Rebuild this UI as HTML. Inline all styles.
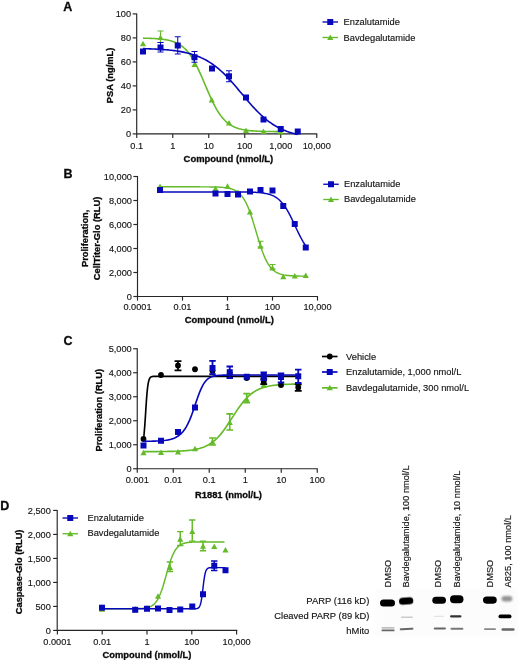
<!DOCTYPE html>
<html lang="en"><head><meta charset="utf-8"><title>Figure</title>
<style>
html,body{margin:0;padding:0;background:#fff;}
body{width:520px;height:660px;overflow:hidden;}
svg{display:block;font-family:"Liberation Sans",Arial,Helvetica,sans-serif;}
text{fill:#141414;stroke:#141414;stroke-width:0.15px;}
text[font-weight="700"]{fill:#0a0a0a;stroke:#0a0a0a;stroke-width:0.3px;}
</style></head><body>
<svg width="520" height="660" viewBox="0 0 520 660">
<defs>
<filter id="b0" x="-20%" y="-200%" width="140%" height="500%"><feGaussianBlur stdDeviation="0.7"/></filter>
<filter id="b1" x="-20%" y="-50%" width="140%" height="200%"><feGaussianBlur stdDeviation="0.7"/></filter>
<filter id="b2" x="-20%" y="-50%" width="140%" height="200%"><feGaussianBlur stdDeviation="1.3"/></filter>
</defs>
<rect width="520" height="660" fill="#fff"/>
<path d="M136.70,13.40V134.40M136.20,133.90H317.25" stroke="#262626" stroke-width="1.15" fill="none"/>
<path d="M132.60,133.90H136.70" stroke="#262626" stroke-width="1.15"/>
<text x="131.10" y="137.20" text-anchor="end" font-size="9.2">0</text>
<path d="M132.60,109.90H136.70" stroke="#262626" stroke-width="1.15"/>
<text x="131.10" y="113.20" text-anchor="end" font-size="9.2">20</text>
<path d="M132.60,85.90H136.70" stroke="#262626" stroke-width="1.15"/>
<text x="131.10" y="89.20" text-anchor="end" font-size="9.2">40</text>
<path d="M132.60,61.90H136.70" stroke="#262626" stroke-width="1.15"/>
<text x="131.10" y="65.20" text-anchor="end" font-size="9.2">60</text>
<path d="M132.60,37.90H136.70" stroke="#262626" stroke-width="1.15"/>
<text x="131.10" y="41.20" text-anchor="end" font-size="9.2">80</text>
<path d="M132.60,13.90H136.70" stroke="#262626" stroke-width="1.15"/>
<text x="131.10" y="17.20" text-anchor="end" font-size="9.2">100</text>
<path d="M136.75,133.90V138.00" stroke="#262626" stroke-width="1.15"/>
<text x="136.75" y="148.50" text-anchor="middle" font-size="9.2">0.1</text>
<path d="M172.75,133.90V138.00" stroke="#262626" stroke-width="1.15"/>
<text x="172.75" y="148.50" text-anchor="middle" font-size="9.2">1</text>
<path d="M208.75,133.90V138.00" stroke="#262626" stroke-width="1.15"/>
<text x="208.75" y="148.50" text-anchor="middle" font-size="9.2">10</text>
<path d="M244.75,133.90V138.00" stroke="#262626" stroke-width="1.15"/>
<text x="244.75" y="148.50" text-anchor="middle" font-size="9.2">100</text>
<path d="M280.75,133.90V138.00" stroke="#262626" stroke-width="1.15"/>
<text x="280.75" y="148.50" text-anchor="middle" font-size="9.2">1,000</text>
<path d="M316.75,133.90V138.00" stroke="#262626" stroke-width="1.15"/>
<text x="316.75" y="148.50" text-anchor="middle" font-size="9.2">10,000</text>
<text x="63.20" y="10.80" text-anchor="start" font-size="12.5" font-weight="700">A</text>
<text x="112.90" y="75.40" text-anchor="middle" font-size="9.3" font-weight="700" transform="rotate(-90 112.90 75.40)">PSA (ng/mL)</text>
<text x="228.40" y="161.60" text-anchor="middle" font-size="9.45" font-weight="700">Compound (nmol/L)</text>
<path d="M143.00,38.17 L144.16,38.19 L145.32,38.22 L146.47,38.25 L147.63,38.28 L148.79,38.31 L149.95,38.35 L151.10,38.39 L152.26,38.44 L153.42,38.50 L154.58,38.56 L155.73,38.63 L156.89,38.71 L158.05,38.80 L159.21,38.89 L160.36,39.00 L161.52,39.13 L162.68,39.26 L163.84,39.42 L164.99,39.59 L166.15,39.79 L167.31,40.00 L168.47,40.25 L169.62,40.52 L170.78,40.82 L171.94,41.16 L173.10,41.54 L174.25,41.96 L175.41,42.43 L176.57,42.95 L177.73,43.53 L178.88,44.17 L180.04,44.88 L181.20,45.66 L182.36,46.52 L183.51,47.47 L184.67,48.52 L185.83,49.66 L186.99,50.90 L188.14,52.26 L189.30,53.73 L190.46,55.32 L191.62,57.04 L192.78,58.87 L193.93,60.83 L195.09,62.91 L196.25,65.10 L197.41,67.41 L198.56,69.82 L199.72,72.32 L200.88,74.90 L202.04,77.54 L203.19,80.24 L204.35,82.96 L205.51,85.70 L206.67,88.43 L207.82,91.13 L208.98,93.80 L210.14,96.40 L211.30,98.93 L212.45,101.38 L213.61,103.72 L214.77,105.96 L215.93,108.08 L217.08,110.08 L218.24,111.96 L219.40,113.72 L220.56,115.36 L221.71,116.87 L222.87,118.27 L224.03,119.56 L225.19,120.74 L226.34,121.81 L227.50,122.80 L228.66,123.69 L229.82,124.51 L230.97,125.24 L232.13,125.91 L233.29,126.51 L234.45,127.05 L235.61,127.53 L236.76,127.97 L237.92,128.36 L239.08,128.72 L240.24,129.03 L241.39,129.32 L242.55,129.57 L243.71,129.79 L244.87,130.00 L246.02,130.18 L247.18,130.34 L248.34,130.48 L249.50,130.61 L250.65,130.73 L251.81,130.83 L252.97,130.92 L254.13,131.00 L255.28,131.07 L256.44,131.14 L257.60,131.20 L258.76,131.25 L259.91,131.29 L261.07,131.33 L262.23,131.37 L263.39,131.40 L264.54,131.43 L265.70,131.46 L266.86,131.48 L268.02,131.50 L269.17,131.52 L270.33,131.53 L271.49,131.55 L272.65,131.56 L273.80,131.57 L274.96,131.58 L276.12,131.59 L277.28,131.60 L278.43,131.60 L279.59,131.61 L280.75,131.62" fill="none" stroke="#64ba28" stroke-width="1.6" stroke-linejoin="round" stroke-linecap="butt"/>
<path d="M160.50,31.00V42.50M157.50,31.00h6.0M157.50,42.50h6.0" stroke="#64ba28" stroke-width="1.05" fill="none"/>
<path d="M143.00,40.67 L146.05,46.27 L139.95,46.27Z" fill="#64ba28"/>
<path d="M160.50,34.42 L163.55,40.02 L157.45,40.02Z" fill="#64ba28"/>
<path d="M177.75,41.92 L180.80,47.52 L174.70,47.52Z" fill="#64ba28"/>
<path d="M194.50,61.42 L197.55,67.02 L191.45,67.02Z" fill="#64ba28"/>
<path d="M211.75,96.92 L214.80,102.52 L208.70,102.52Z" fill="#64ba28"/>
<path d="M229.00,119.92 L232.05,125.52 L225.95,125.52Z" fill="#64ba28"/>
<path d="M246.00,127.42 L249.05,133.02 L242.95,133.02Z" fill="#64ba28"/>
<path d="M263.50,128.42 L266.55,134.02 L260.45,134.02Z" fill="#64ba28"/>
<path d="M280.75,128.92 L283.80,134.52 L277.70,134.52Z" fill="#64ba28"/>
<path d="M143.00,48.63 L144.30,48.66 L145.60,48.70 L146.90,48.74 L148.20,48.78 L149.50,48.83 L150.80,48.88 L152.10,48.93 L153.40,48.99 L154.70,49.05 L156.00,49.11 L157.30,49.18 L158.61,49.25 L159.91,49.33 L161.21,49.41 L162.51,49.50 L163.81,49.60 L165.11,49.70 L166.41,49.81 L167.71,49.92 L169.01,50.05 L170.31,50.18 L171.61,50.32 L172.91,50.48 L174.21,50.64 L175.51,50.81 L176.81,50.99 L178.11,51.19 L179.41,51.40 L180.71,51.62 L182.01,51.86 L183.31,52.11 L184.61,52.38 L185.91,52.67 L187.21,52.97 L188.51,53.30 L189.82,53.64 L191.12,54.01 L192.42,54.40 L193.72,54.81 L195.02,55.25 L196.32,55.71 L197.62,56.21 L198.92,56.73 L200.22,57.28 L201.52,57.86 L202.82,58.47 L204.12,59.12 L205.42,59.80 L206.72,60.51 L208.02,61.27 L209.32,62.06 L210.62,62.89 L211.92,63.76 L213.22,64.67 L214.52,65.62 L215.82,66.61 L217.12,67.64 L218.42,68.72 L219.72,69.83 L221.03,70.99 L222.33,72.18 L223.63,73.42 L224.93,74.69 L226.23,76.00 L227.53,77.35 L228.83,78.73 L230.13,80.14 L231.43,81.58 L232.73,83.04 L234.03,84.53 L235.33,86.04 L236.63,87.57 L237.93,89.11 L239.23,90.66 L240.53,92.22 L241.83,93.78 L243.13,95.34 L244.43,96.90 L245.73,98.44 L247.03,99.98 L248.33,101.50 L249.63,103.01 L250.93,104.49 L252.24,105.95 L253.54,107.38 L254.84,108.78 L256.14,110.15 L257.44,111.49 L258.74,112.79 L260.04,114.05 L261.34,115.28 L262.64,116.46 L263.94,117.61 L265.24,118.71 L266.54,119.77 L267.84,120.79 L269.14,121.77 L270.44,122.71 L271.74,123.61 L273.04,124.47 L274.34,125.29 L275.64,126.07 L276.94,126.81 L278.24,127.52 L279.54,128.19 L280.84,128.83 L282.14,129.43 L283.45,130.00 L284.75,130.54 L286.05,131.05 L287.35,131.54 L288.65,131.99 L289.95,132.42 L291.25,132.83 L292.55,133.21 L293.85,133.57 L295.15,133.91 L296.45,134.23 L297.75,134.53" fill="none" stroke="#0808bb" stroke-width="1.6" stroke-linejoin="round" stroke-linecap="butt"/>
<path d="M160.50,42.50V51.90M157.50,42.50h6.0M157.50,51.90h6.0" stroke="#0808bb" stroke-width="1.05" fill="none"/>
<path d="M177.75,36.80V53.90M174.75,36.80h6.0M174.75,53.90h6.0" stroke="#0808bb" stroke-width="1.05" fill="none"/>
<path d="M194.50,51.50V62.20M191.50,51.50h6.0M191.50,62.20h6.0" stroke="#0808bb" stroke-width="1.05" fill="none"/>
<path d="M229.00,70.80V81.80M226.00,70.80h6.0M226.00,81.80h6.0" stroke="#0808bb" stroke-width="1.05" fill="none"/>
<rect x="140.00" y="48.50" width="6.0" height="6.0" fill="#0808bb"/>
<rect x="157.50" y="44.50" width="6.0" height="6.0" fill="#0808bb"/>
<rect x="174.75" y="42.50" width="6.0" height="6.0" fill="#0808bb"/>
<rect x="191.50" y="54.25" width="6.0" height="6.0" fill="#0808bb"/>
<rect x="209.00" y="65.50" width="6.0" height="6.0" fill="#0808bb"/>
<rect x="226.00" y="73.30" width="6.0" height="6.0" fill="#0808bb"/>
<rect x="243.00" y="94.50" width="6.0" height="6.0" fill="#0808bb"/>
<rect x="260.50" y="116.50" width="6.0" height="6.0" fill="#0808bb"/>
<rect x="277.75" y="126.00" width="6.0" height="6.0" fill="#0808bb"/>
<rect x="294.75" y="128.50" width="6.0" height="6.0" fill="#0808bb"/>
<path d="M322.50,22.00H338.00" stroke="#0808bb" stroke-width="1.35"/>
<rect x="327.25" y="19.00" width="6.0" height="6.0" fill="#0808bb"/>
<text x="343.60" y="25.30" text-anchor="start" font-size="9.3">Enzalutamide</text>
<path d="M322.50,37.50H338.00" stroke="#64ba28" stroke-width="1.35"/>
<path d="M330.25,34.42 L333.30,40.02 L327.20,40.02Z" fill="#64ba28"/>
<text x="343.60" y="40.80" text-anchor="start" font-size="9.3">Bavdegalutamide</text>
<path d="M137.50,176.00V297.00M137.00,296.50H318.00" stroke="#262626" stroke-width="1.15" fill="none"/>
<path d="M133.40,296.50H137.50" stroke="#262626" stroke-width="1.15"/>
<text x="131.90" y="299.80" text-anchor="end" font-size="9.2">0</text>
<path d="M133.40,272.50H137.50" stroke="#262626" stroke-width="1.15"/>
<text x="131.90" y="275.80" text-anchor="end" font-size="9.2">2,000</text>
<path d="M133.40,248.50H137.50" stroke="#262626" stroke-width="1.15"/>
<text x="131.90" y="251.80" text-anchor="end" font-size="9.2">4,000</text>
<path d="M133.40,224.50H137.50" stroke="#262626" stroke-width="1.15"/>
<text x="131.90" y="227.80" text-anchor="end" font-size="9.2">6,000</text>
<path d="M133.40,200.50H137.50" stroke="#262626" stroke-width="1.15"/>
<text x="131.90" y="203.80" text-anchor="end" font-size="9.2">8,000</text>
<path d="M133.40,176.50H137.50" stroke="#262626" stroke-width="1.15"/>
<text x="131.90" y="179.80" text-anchor="end" font-size="9.2">10,000</text>
<path d="M137.50,296.50V300.60" stroke="#262626" stroke-width="1.15"/>
<text x="137.50" y="310.10" text-anchor="middle" font-size="9.2">0.0001</text>
<path d="M182.50,296.50V300.60" stroke="#262626" stroke-width="1.15"/>
<text x="182.50" y="310.10" text-anchor="middle" font-size="9.2">0.01</text>
<path d="M227.50,296.50V300.60" stroke="#262626" stroke-width="1.15"/>
<text x="227.50" y="310.10" text-anchor="middle" font-size="9.2">1</text>
<path d="M272.50,296.50V300.60" stroke="#262626" stroke-width="1.15"/>
<text x="272.50" y="310.10" text-anchor="middle" font-size="9.2">100</text>
<path d="M317.50,296.50V300.60" stroke="#262626" stroke-width="1.15"/>
<text x="317.50" y="310.10" text-anchor="middle" font-size="9.2">10,000</text>
<text x="63.60" y="178.30" text-anchor="start" font-size="12.5" font-weight="700">B</text>
<text x="88.30" y="238.30" text-anchor="middle" font-size="9.3" font-weight="700" transform="rotate(-90 88.30 238.30)">Proliferation,</text>
<text x="99.50" y="238.50" text-anchor="middle" font-size="9.3" font-weight="700" transform="rotate(-90 99.50 238.50)">CellTiter-Glo (RLU)</text>
<text x="229.30" y="323.00" text-anchor="middle" font-size="9.4" font-weight="700">Compound (nmol/L)</text>
<path d="M160.00,186.83 L161.22,186.83 L162.45,186.83 L163.67,186.83 L164.90,186.83 L166.12,186.83 L167.35,186.83 L168.57,186.83 L169.80,186.83 L171.02,186.83 L172.25,186.83 L173.47,186.83 L174.70,186.83 L175.92,186.83 L177.15,186.83 L178.37,186.83 L179.60,186.83 L180.82,186.83 L182.05,186.83 L183.27,186.83 L184.50,186.83 L185.72,186.83 L186.95,186.83 L188.17,186.83 L189.39,186.83 L190.62,186.83 L191.84,186.83 L193.07,186.83 L194.29,186.84 L195.52,186.84 L196.74,186.84 L197.97,186.84 L199.19,186.84 L200.42,186.85 L201.64,186.85 L202.87,186.86 L204.09,186.86 L205.32,186.87 L206.54,186.88 L207.77,186.89 L208.99,186.90 L210.22,186.91 L211.44,186.93 L212.67,186.95 L213.89,186.97 L215.12,187.00 L216.34,187.04 L217.57,187.08 L218.79,187.14 L220.01,187.20 L221.24,187.28 L222.46,187.37 L223.69,187.48 L224.91,187.61 L226.14,187.77 L227.36,187.95 L228.59,188.18 L229.81,188.45 L231.04,188.78 L232.26,189.17 L233.49,189.63 L234.71,190.18 L235.94,190.84 L237.16,191.62 L238.39,192.53 L239.61,193.61 L240.84,194.88 L242.06,196.35 L243.29,198.05 L244.51,200.01 L245.74,202.24 L246.96,204.76 L248.18,207.58 L249.41,210.69 L250.63,214.08 L251.86,217.73 L253.08,221.60 L254.31,225.62 L255.53,229.75 L256.76,233.90 L257.98,238.02 L259.21,242.02 L260.43,245.86 L261.66,249.47 L262.88,252.82 L264.11,255.89 L265.33,258.66 L266.56,261.14 L267.78,263.33 L269.01,265.25 L270.23,266.91 L271.46,268.35 L272.68,269.58 L273.91,270.64 L275.13,271.53 L276.36,272.29 L277.58,272.93 L278.80,273.47 L280.03,273.92 L281.25,274.30 L282.48,274.61 L283.70,274.88 L284.93,275.10 L286.15,275.28 L287.38,275.44 L288.60,275.56 L289.83,275.67 L291.05,275.76 L292.28,275.83 L293.50,275.89 L294.73,275.94 L295.95,275.99 L297.18,276.02 L298.40,276.05 L299.63,276.08 L300.85,276.10 L302.08,276.11 L303.30,276.13 L304.53,276.14 L305.75,276.15" fill="none" stroke="#64ba28" stroke-width="1.45" stroke-linejoin="round" stroke-linecap="butt"/>
<path d="M260.50,241.25V247.00M257.50,241.25h6.0M257.50,247.00h6.0" stroke="#64ba28" stroke-width="1.05" fill="none"/>
<path d="M272.50,264.50V269.00M269.50,264.50h6.0M269.50,269.00h6.0" stroke="#64ba28" stroke-width="1.05" fill="none"/>
<path d="M160.00,183.42 L163.05,189.02 L156.95,189.02Z" fill="#64ba28"/>
<path d="M215.50,185.67 L218.55,191.27 L212.45,191.27Z" fill="#64ba28"/>
<path d="M227.50,183.17 L230.55,188.77 L224.45,188.77Z" fill="#64ba28"/>
<path d="M238.00,189.42 L241.05,195.02 L234.95,195.02Z" fill="#64ba28"/>
<path d="M250.00,208.92 L253.05,214.52 L246.95,214.52Z" fill="#64ba28"/>
<path d="M260.50,243.17 L263.55,248.77 L257.45,248.77Z" fill="#64ba28"/>
<path d="M272.50,264.92 L275.55,270.52 L269.45,270.52Z" fill="#64ba28"/>
<path d="M283.25,273.67 L286.30,279.27 L280.20,279.27Z" fill="#64ba28"/>
<path d="M294.75,272.92 L297.80,278.52 L291.70,278.52Z" fill="#64ba28"/>
<path d="M305.75,272.42 L308.80,278.02 L302.70,278.02Z" fill="#64ba28"/>
<path d="M160.00,191.90 L161.22,191.90 L162.45,191.90 L163.67,191.90 L164.90,191.90 L166.12,191.90 L167.35,191.90 L168.57,191.90 L169.80,191.90 L171.02,191.90 L172.25,191.90 L173.47,191.90 L174.70,191.90 L175.92,191.90 L177.15,191.90 L178.37,191.90 L179.60,191.90 L180.82,191.90 L182.05,191.90 L183.27,191.90 L184.50,191.90 L185.72,191.90 L186.95,191.90 L188.17,191.90 L189.39,191.90 L190.62,191.90 L191.84,191.90 L193.07,191.90 L194.29,191.90 L195.52,191.90 L196.74,191.90 L197.97,191.90 L199.19,191.90 L200.42,191.90 L201.64,191.90 L202.87,191.90 L204.09,191.90 L205.32,191.90 L206.54,191.90 L207.77,191.90 L208.99,191.90 L210.22,191.90 L211.44,191.90 L212.67,191.90 L213.89,191.90 L215.12,191.90 L216.34,191.90 L217.57,191.90 L218.79,191.90 L220.01,191.90 L221.24,191.91 L222.46,191.91 L223.69,191.91 L224.91,191.91 L226.14,191.91 L227.36,191.91 L228.59,191.91 L229.81,191.92 L231.04,191.92 L232.26,191.92 L233.49,191.93 L234.71,191.93 L235.94,191.94 L237.16,191.94 L238.39,191.95 L239.61,191.96 L240.84,191.97 L242.06,191.98 L243.29,191.99 L244.51,192.01 L245.74,192.03 L246.96,192.05 L248.18,192.08 L249.41,192.10 L250.63,192.14 L251.86,192.18 L253.08,192.23 L254.31,192.28 L255.53,192.34 L256.76,192.42 L257.98,192.50 L259.21,192.60 L260.43,192.72 L261.66,192.86 L262.88,193.02 L264.11,193.20 L265.33,193.42 L266.56,193.66 L267.78,193.95 L269.01,194.29 L270.23,194.67 L271.46,195.11 L272.68,195.63 L273.91,196.21 L275.13,196.88 L276.36,197.65 L277.58,198.53 L278.80,199.52 L280.03,200.63 L281.25,201.89 L282.48,203.28 L283.70,204.84 L284.93,206.54 L286.15,208.41 L287.38,210.43 L288.60,212.59 L289.83,214.89 L291.05,217.31 L292.28,219.83 L293.50,222.42 L294.73,225.04 L295.95,227.68 L297.18,230.29 L298.40,232.85 L299.63,235.33 L300.85,237.70 L302.08,239.95 L303.30,242.06 L304.53,244.01 L305.75,245.81" fill="none" stroke="#0808bb" stroke-width="1.45" stroke-linejoin="round" stroke-linecap="butt"/>
<rect x="157.00" y="187.00" width="6.0" height="6.0" fill="#0808bb"/>
<rect x="212.50" y="190.50" width="6.0" height="6.0" fill="#0808bb"/>
<rect x="224.50" y="191.00" width="6.0" height="6.0" fill="#0808bb"/>
<rect x="235.00" y="191.50" width="6.0" height="6.0" fill="#0808bb"/>
<rect x="247.00" y="188.50" width="6.0" height="6.0" fill="#0808bb"/>
<rect x="257.50" y="187.00" width="6.0" height="6.0" fill="#0808bb"/>
<rect x="269.50" y="187.50" width="6.0" height="6.0" fill="#0808bb"/>
<rect x="280.25" y="203.00" width="6.0" height="6.0" fill="#0808bb"/>
<rect x="291.75" y="221.00" width="6.0" height="6.0" fill="#0808bb"/>
<rect x="302.75" y="244.50" width="6.0" height="6.0" fill="#0808bb"/>
<path d="M323.25,184.25H338.75" stroke="#0808bb" stroke-width="1.35"/>
<rect x="328.00" y="181.25" width="6.0" height="6.0" fill="#0808bb"/>
<text x="344.00" y="187.15" text-anchor="start" font-size="9.3">Enzalutamide</text>
<path d="M323.25,199.50H338.75" stroke="#64ba28" stroke-width="1.35"/>
<path d="M331.00,196.42 L334.05,202.02 L327.95,202.02Z" fill="#64ba28"/>
<text x="344.00" y="202.40" text-anchor="start" font-size="9.3">Bavdegalutamide</text>
<path d="M137.25,348.25V469.25M136.75,468.75H317.75" stroke="#262626" stroke-width="1.15" fill="none"/>
<path d="M133.15,468.75H137.25" stroke="#262626" stroke-width="1.15"/>
<text x="131.65" y="472.05" text-anchor="end" font-size="9.2">0</text>
<path d="M133.15,444.75H137.25" stroke="#262626" stroke-width="1.15"/>
<text x="131.65" y="448.05" text-anchor="end" font-size="9.2">1,000</text>
<path d="M133.15,420.75H137.25" stroke="#262626" stroke-width="1.15"/>
<text x="131.65" y="424.05" text-anchor="end" font-size="9.2">2,000</text>
<path d="M133.15,396.75H137.25" stroke="#262626" stroke-width="1.15"/>
<text x="131.65" y="400.05" text-anchor="end" font-size="9.2">3,000</text>
<path d="M133.15,372.75H137.25" stroke="#262626" stroke-width="1.15"/>
<text x="131.65" y="376.05" text-anchor="end" font-size="9.2">4,000</text>
<path d="M133.15,348.75H137.25" stroke="#262626" stroke-width="1.15"/>
<text x="131.65" y="352.05" text-anchor="end" font-size="9.2">5,000</text>
<path d="M137.25,468.75V472.85" stroke="#262626" stroke-width="1.15"/>
<text x="137.25" y="483.35" text-anchor="middle" font-size="9.2">0.001</text>
<path d="M173.25,468.75V472.85" stroke="#262626" stroke-width="1.15"/>
<text x="173.25" y="483.35" text-anchor="middle" font-size="9.2">0.01</text>
<path d="M209.25,468.75V472.85" stroke="#262626" stroke-width="1.15"/>
<text x="209.25" y="483.35" text-anchor="middle" font-size="9.2">0.1</text>
<path d="M245.25,468.75V472.85" stroke="#262626" stroke-width="1.15"/>
<text x="245.25" y="483.35" text-anchor="middle" font-size="9.2">1</text>
<path d="M281.25,468.75V472.85" stroke="#262626" stroke-width="1.15"/>
<text x="281.25" y="483.35" text-anchor="middle" font-size="9.2">10</text>
<path d="M317.25,468.75V472.85" stroke="#262626" stroke-width="1.15"/>
<text x="317.25" y="483.35" text-anchor="middle" font-size="9.2">100</text>
<text x="63.60" y="345.30" text-anchor="start" font-size="12.5" font-weight="700">C</text>
<text x="101.70" y="410.20" text-anchor="middle" font-size="9.3" font-weight="700" transform="rotate(-90 101.70 410.20)">Proliferation (RLU)</text>
<text x="228.50" y="498.00" text-anchor="middle" font-size="9.35" font-weight="700">R1881 (nmol/L)</text>
<path d="M143.50,451.61 L144.80,451.61 L146.10,451.61 L147.40,451.60 L148.70,451.60 L150.00,451.59 L151.30,451.59 L152.60,451.59 L153.90,451.58 L155.20,451.57 L156.50,451.57 L157.80,451.56 L159.11,451.55 L160.41,451.54 L161.71,451.53 L163.01,451.51 L164.31,451.50 L165.61,451.48 L166.91,451.46 L168.21,451.44 L169.51,451.42 L170.81,451.39 L172.11,451.36 L173.41,451.33 L174.71,451.29 L176.01,451.25 L177.31,451.20 L178.61,451.14 L179.91,451.08 L181.21,451.01 L182.51,450.93 L183.81,450.85 L185.11,450.75 L186.41,450.64 L187.71,450.51 L189.01,450.38 L190.32,450.22 L191.62,450.04 L192.92,449.85 L194.22,449.63 L195.52,449.38 L196.82,449.11 L198.12,448.80 L199.42,448.46 L200.72,448.07 L202.02,447.65 L203.32,447.18 L204.62,446.65 L205.92,446.07 L207.22,445.43 L208.52,444.72 L209.82,443.94 L211.12,443.09 L212.42,442.16 L213.72,441.14 L215.02,440.03 L216.32,438.84 L217.62,437.55 L218.92,436.17 L220.22,434.69 L221.53,433.13 L222.83,431.48 L224.13,429.75 L225.43,427.94 L226.73,426.06 L228.03,424.13 L229.33,422.16 L230.63,420.15 L231.93,418.13 L233.23,416.11 L234.53,414.09 L235.83,412.11 L237.13,410.16 L238.43,408.26 L239.73,406.43 L241.03,404.67 L242.33,402.99 L243.63,401.39 L244.93,399.88 L246.23,398.47 L247.53,397.15 L248.83,395.92 L250.13,394.78 L251.43,393.73 L252.74,392.77 L254.04,391.89 L255.34,391.08 L256.64,390.35 L257.94,389.68 L259.24,389.08 L260.54,388.54 L261.84,388.05 L263.14,387.60 L264.44,387.21 L265.74,386.85 L267.04,386.53 L268.34,386.24 L269.64,385.99 L270.94,385.76 L272.24,385.55 L273.54,385.37 L274.84,385.21 L276.14,385.06 L277.44,384.94 L278.74,384.82 L280.04,384.72 L281.34,384.63 L282.64,384.55 L283.95,384.47 L285.25,384.41 L286.55,384.35 L287.85,384.30 L289.15,384.26 L290.45,384.22 L291.75,384.18 L293.05,384.15 L294.35,384.12 L295.65,384.10 L296.95,384.07 L298.25,384.05" fill="none" stroke="#64ba28" stroke-width="1.65" stroke-linejoin="round" stroke-linecap="butt"/>
<path d="M212.50,438.00V445.00M209.10,438.00h6.8M209.10,445.00h6.8" stroke="#64ba28" stroke-width="1.6" fill="none"/>
<path d="M229.75,413.90V430.00M226.35,413.90h6.8M226.35,430.00h6.8" stroke="#64ba28" stroke-width="1.6" fill="none"/>
<path d="M246.75,393.60V402.60M243.35,393.60h6.8M243.35,402.60h6.8" stroke="#64ba28" stroke-width="1.6" fill="none"/>
<path d="M143.50,449.67 L146.55,455.27 L140.45,455.27Z" fill="#64ba28"/>
<path d="M161.00,449.42 L164.05,455.02 L157.95,455.02Z" fill="#64ba28"/>
<path d="M178.00,448.92 L181.05,454.52 L174.95,454.52Z" fill="#64ba28"/>
<path d="M195.00,445.67 L198.05,451.27 L191.95,451.27Z" fill="#64ba28"/>
<path d="M212.50,438.92 L215.55,444.52 L209.45,444.52Z" fill="#64ba28"/>
<path d="M229.75,419.42 L232.80,425.02 L226.70,425.02Z" fill="#64ba28"/>
<path d="M246.75,396.17 L249.80,401.77 L243.70,401.77Z" fill="#64ba28"/>
<path d="M263.75,381.92 L266.80,387.52 L260.70,387.52Z" fill="#64ba28"/>
<path d="M281.00,380.92 L284.05,386.52 L277.95,386.52Z" fill="#64ba28"/>
<path d="M298.25,380.92 L301.30,386.52 L295.20,386.52Z" fill="#64ba28"/>
<path d="M143.50,439.09 L143.89,435.88 L144.28,431.91 L144.66,427.14 L145.05,421.68 L145.44,415.74 L145.83,409.62 L146.21,403.67 L146.60,398.18 L146.99,393.37 L147.38,389.35 L147.77,386.11 L148.15,383.57 L148.54,381.64 L148.93,380.18 L149.32,379.11 L149.71,378.33 L150.09,377.76 L150.48,377.34 L150.87,377.05 L151.26,376.83 L151.64,376.68 L152.03,376.57 L152.42,376.49 L152.81,376.44 L153.20,376.40 L153.58,376.37 L153.97,376.35 L154.36,376.34 L154.75,376.33 L155.14,376.32 L155.52,376.31 L155.91,376.31 L156.30,376.31 L156.69,376.30 L157.07,376.30 L157.46,376.30 L157.85,376.30 L158.24,376.30 L158.63,376.30 L159.01,376.30 L159.40,376.30 L159.79,376.30 L160.18,376.30 L160.57,376.30 L160.95,376.30 L161.34,376.30 L161.73,376.30 L162.12,376.30 L162.50,376.30 L162.89,376.30 L163.28,376.30 L163.67,376.30 L164.06,376.30 L164.44,376.30 L164.83,376.30 L165.22,376.30 L165.61,376.30 L165.99,376.30 L166.38,376.30 L166.77,376.30 L167.16,376.30 L167.55,376.30 L167.93,376.30 L168.32,376.30 L168.71,376.30 L169.10,376.30 L169.49,376.30 L169.87,376.30 L170.26,376.30 L170.65,376.30 L171.04,376.30 L171.42,376.30 L171.81,376.30 L172.20,376.30 L172.59,376.30 L172.98,376.30 L173.36,376.30 L173.75,376.30 L174.14,376.30 L174.53,376.30 L174.92,376.30 L175.30,376.30 L175.69,376.30 L176.08,376.30 L176.47,376.30 L176.85,376.30 L177.24,376.30 L177.63,376.30 L178.02,376.30 L178.41,376.30 L178.79,376.30 L179.18,376.30 L179.57,376.30 L179.96,376.30 L180.35,376.30 L180.73,376.30 L181.12,376.30 L181.51,376.30 L181.90,376.30 L182.28,376.30 L182.67,376.30 L183.06,376.30 L183.45,376.30 L183.84,376.30 L184.22,376.30 L184.61,376.30 L185.00,376.30 L185.39,376.30 L185.78,376.30 L186.16,376.30 L186.55,376.30 L186.94,376.30 L187.33,376.30 L187.71,376.30 L188.10,376.30 L188.49,376.30 L188.88,376.30 L189.27,376.30 L189.65,376.30 L190.04,376.30 L190.43,376.30 L190.82,376.30 L191.20,376.30 L191.59,376.30 L191.98,376.30 L192.37,376.30 L192.76,376.30 L193.14,376.30 L193.53,376.30 L193.92,376.30 L194.31,376.30 L194.70,376.30 L195.08,376.30 L195.47,376.30 L195.86,376.30 L196.25,376.30 L196.63,376.30 L197.02,376.30 L197.41,376.30 L197.80,376.30 L198.19,376.30 L198.57,376.30 L198.96,376.30 L199.35,376.30 L199.74,376.30 L200.13,376.30 L200.51,376.30 L200.90,376.30 L201.29,376.30 L201.68,376.30 L202.06,376.30 L202.45,376.30 L202.84,376.30 L203.23,376.30 L203.62,376.30 L204.00,376.30 L204.39,376.30 L204.78,376.30 L205.17,376.30 L205.56,376.30 L205.94,376.30 L206.33,376.30 L206.72,376.30 L207.11,376.30 L207.49,376.30 L207.88,376.30 L208.27,376.30 L208.66,376.30 L209.05,376.30 L209.43,376.30 L209.82,376.30 L210.21,376.30 L210.60,376.30 L210.98,376.30 L211.37,376.30 L211.76,376.30 L212.15,376.30 L212.54,376.30 L212.92,376.30 L213.31,376.30 L213.70,376.30 L214.09,376.30 L214.48,376.30 L214.86,376.30 L215.25,376.30 L215.64,376.30 L216.03,376.30 L216.41,376.30 L216.80,376.30 L217.19,376.30 L217.58,376.30 L217.97,376.30 L218.35,376.30 L218.74,376.30 L219.13,376.30 L219.52,376.30 L219.91,376.30 L220.29,376.30 L220.68,376.30 L221.07,376.30 L221.46,376.30 L221.84,376.30 L222.23,376.30 L222.62,376.30 L223.01,376.30 L223.40,376.30 L223.78,376.30 L224.17,376.30 L224.56,376.30 L224.95,376.30 L225.34,376.30 L225.72,376.30 L226.11,376.30 L226.50,376.30 L226.89,376.30 L227.27,376.30 L227.66,376.30 L228.05,376.30 L228.44,376.30 L228.83,376.30 L229.21,376.30 L229.60,376.30 L229.99,376.30 L230.38,376.30 L230.77,376.30 L231.15,376.30 L231.54,376.30 L231.93,376.30 L232.32,376.30 L232.70,376.30 L233.09,376.30 L233.48,376.30 L233.87,376.30 L234.26,376.30 L234.64,376.30 L235.03,376.30 L235.42,376.30 L235.81,376.30 L236.19,376.30 L236.58,376.30 L236.97,376.30 L237.36,376.30 L237.75,376.30 L238.13,376.30 L238.52,376.30 L238.91,376.30 L239.30,376.30 L239.69,376.30 L240.07,376.30 L240.46,376.30 L240.85,376.30 L241.24,376.30 L241.62,376.30 L242.01,376.30 L242.40,376.30 L242.79,376.30 L243.18,376.30 L243.56,376.30 L243.95,376.30 L244.34,376.30 L244.73,376.30 L245.12,376.30 L245.50,376.30 L245.89,376.30 L246.28,376.30 L246.67,376.30 L247.05,376.30 L247.44,376.30 L247.83,376.30 L248.22,376.30 L248.61,376.30 L248.99,376.30 L249.38,376.30 L249.77,376.30 L250.16,376.30 L250.55,376.30 L250.93,376.30 L251.32,376.30 L251.71,376.30 L252.10,376.30 L252.48,376.30 L252.87,376.30 L253.26,376.30 L253.65,376.30 L254.04,376.30 L254.42,376.30 L254.81,376.30 L255.20,376.30 L255.59,376.30 L255.97,376.30 L256.36,376.30 L256.75,376.30 L257.14,376.30 L257.53,376.30 L257.91,376.30 L258.30,376.30 L258.69,376.30 L259.08,376.30 L259.47,376.30 L259.85,376.30 L260.24,376.30 L260.63,376.30 L261.02,376.30 L261.40,376.30 L261.79,376.30 L262.18,376.30 L262.57,376.30 L262.96,376.30 L263.34,376.30 L263.73,376.30 L264.12,376.30 L264.51,376.30 L264.90,376.30 L265.28,376.30 L265.67,376.30 L266.06,376.30 L266.45,376.30 L266.83,376.30 L267.22,376.30 L267.61,376.30 L268.00,376.30 L268.39,376.30 L268.77,376.30 L269.16,376.30 L269.55,376.30 L269.94,376.30 L270.33,376.30 L270.71,376.30 L271.10,376.30 L271.49,376.30 L271.88,376.30 L272.26,376.30 L272.65,376.30 L273.04,376.30 L273.43,376.30 L273.82,376.30 L274.20,376.30 L274.59,376.30 L274.98,376.30 L275.37,376.30 L275.76,376.30 L276.14,376.30 L276.53,376.30 L276.92,376.30 L277.31,376.30 L277.69,376.30 L278.08,376.30 L278.47,376.30 L278.86,376.30 L279.25,376.30 L279.63,376.30 L280.02,376.30 L280.41,376.30 L280.80,376.30 L281.18,376.30 L281.57,376.30 L281.96,376.30 L282.35,376.30 L282.74,376.30 L283.12,376.30 L283.51,376.30 L283.90,376.30 L284.29,376.30 L284.68,376.30 L285.06,376.30 L285.45,376.30 L285.84,376.30 L286.23,376.30 L286.61,376.30 L287.00,376.30 L287.39,376.30 L287.78,376.30 L288.17,376.30 L288.55,376.30 L288.94,376.30 L289.33,376.30 L289.72,376.30 L290.11,376.30 L290.49,376.30 L290.88,376.30 L291.27,376.30 L291.66,376.30 L292.04,376.30 L292.43,376.30 L292.82,376.30 L293.21,376.30 L293.60,376.30 L293.98,376.30 L294.37,376.30 L294.76,376.30 L295.15,376.30 L295.54,376.30 L295.92,376.30 L296.31,376.30 L296.70,376.30 L297.09,376.30 L297.47,376.30 L297.86,376.30 L298.25,376.30" fill="none" stroke="#000" stroke-width="1.65" stroke-linejoin="round" stroke-linecap="butt"/>
<path d="M178.00,361.20V370.40M174.55,361.20h6.9M174.55,370.40h6.9" stroke="#000" stroke-width="1.7" fill="none"/>
<path d="M263.75,379.00V384.20M260.30,379.00h6.9M260.30,384.20h6.9" stroke="#000" stroke-width="1.7" fill="none"/>
<path d="M298.25,384.40V390.90M294.80,384.40h6.9M294.80,390.90h6.9" stroke="#000" stroke-width="1.7" fill="none"/>
<circle cx="143.50" cy="439.00" r="2.9" fill="#000"/>
<circle cx="161.00" cy="375.00" r="2.9" fill="#000"/>
<circle cx="178.00" cy="365.50" r="2.9" fill="#000"/>
<circle cx="195.00" cy="369.25" r="2.9" fill="#000"/>
<circle cx="212.50" cy="371.00" r="2.9" fill="#000"/>
<circle cx="229.75" cy="373.50" r="2.9" fill="#000"/>
<circle cx="246.75" cy="378.00" r="2.9" fill="#000"/>
<circle cx="263.75" cy="382.00" r="2.9" fill="#000"/>
<circle cx="281.00" cy="385.00" r="2.9" fill="#000"/>
<circle cx="298.25" cy="387.50" r="2.9" fill="#000"/>
<path d="M143.50,441.33 L144.80,441.32 L146.10,441.31 L147.40,441.29 L148.70,441.27 L150.00,441.25 L151.30,441.22 L152.60,441.19 L153.90,441.15 L155.20,441.11 L156.50,441.05 L157.80,440.99 L159.11,440.92 L160.41,440.83 L161.71,440.73 L163.01,440.61 L164.31,440.47 L165.61,440.30 L166.91,440.10 L168.21,439.87 L169.51,439.60 L170.81,439.27 L172.11,438.89 L173.41,438.44 L174.71,437.92 L176.01,437.29 L177.31,436.56 L178.61,435.71 L179.91,434.70 L181.21,433.53 L182.51,432.16 L183.81,430.56 L185.11,428.72 L186.41,426.60 L187.71,424.19 L189.01,421.46 L190.32,418.42 L191.62,415.09 L192.92,411.50 L194.22,407.72 L195.52,403.84 L196.82,399.98 L198.12,396.24 L199.42,392.75 L200.72,389.58 L202.02,386.79 L203.32,384.40 L204.62,382.41 L205.92,380.78 L207.22,379.48 L208.52,378.44 L209.82,377.63 L211.12,377.00 L212.42,376.52 L213.72,376.15 L215.02,375.87 L216.32,375.66 L217.62,375.50 L218.92,375.37 L220.22,375.28 L221.53,375.21 L222.83,375.16 L224.13,375.12 L225.43,375.09 L226.73,375.07 L228.03,375.05 L229.33,375.04 L230.63,375.03 L231.93,375.02 L233.23,375.02 L234.53,375.01 L235.83,375.01 L237.13,375.01 L238.43,375.01 L239.73,375.00 L241.03,375.00 L242.33,375.00 L243.63,375.00 L244.93,375.00 L246.23,375.00 L247.53,375.00 L248.83,375.00 L250.13,375.00 L251.43,375.00 L252.74,375.00 L254.04,375.00 L255.34,375.00 L256.64,375.00 L257.94,375.00 L259.24,375.00 L260.54,375.00 L261.84,375.00 L263.14,375.00 L264.44,375.00 L265.74,375.00 L267.04,375.00 L268.34,375.00 L269.64,375.00 L270.94,375.00 L272.24,375.00 L273.54,375.00 L274.84,375.00 L276.14,375.00 L277.44,375.00 L278.74,375.00 L280.04,375.00 L281.34,375.00 L282.64,375.00 L283.95,375.00 L285.25,375.00 L286.55,375.00 L287.85,375.00 L289.15,375.00 L290.45,375.00 L291.75,375.00 L293.05,375.00 L294.35,375.00 L295.65,375.00 L296.95,375.00 L298.25,375.00" fill="none" stroke="#0808bb" stroke-width="1.65" stroke-linejoin="round" stroke-linecap="butt"/>
<path d="M212.50,360.80V374.20M209.25,360.80h6.5M209.25,374.20h6.5" stroke="#0808bb" stroke-width="1.8" fill="none"/>
<path d="M229.75,366.50V378.00M226.50,366.50h6.5M226.50,378.00h6.5" stroke="#0808bb" stroke-width="1.8" fill="none"/>
<path d="M263.75,372.40V380.20M260.50,372.40h6.5M260.50,380.20h6.5" stroke="#0808bb" stroke-width="1.8" fill="none"/>
<path d="M281.00,373.40V382.50M277.75,373.40h6.5M277.75,382.50h6.5" stroke="#0808bb" stroke-width="1.8" fill="none"/>
<path d="M298.25,369.60V383.00M295.00,369.60h6.5M295.00,383.00h6.5" stroke="#0808bb" stroke-width="1.8" fill="none"/>
<rect x="140.50" y="442.50" width="6.0" height="6.0" fill="#0808bb"/>
<rect x="158.00" y="437.75" width="6.0" height="6.0" fill="#0808bb"/>
<rect x="175.00" y="429.00" width="6.0" height="6.0" fill="#0808bb"/>
<rect x="192.00" y="404.50" width="6.0" height="6.0" fill="#0808bb"/>
<rect x="209.50" y="365.00" width="6.0" height="6.0" fill="#0808bb"/>
<rect x="226.75" y="369.20" width="6.0" height="6.0" fill="#0808bb"/>
<rect x="243.75" y="373.75" width="6.0" height="6.0" fill="#0808bb"/>
<rect x="260.75" y="373.00" width="6.0" height="6.0" fill="#0808bb"/>
<rect x="278.00" y="374.00" width="6.0" height="6.0" fill="#0808bb"/>
<rect x="295.25" y="373.25" width="6.0" height="6.0" fill="#0808bb"/>
<path d="M322.00,356.50H337.50" stroke="#000" stroke-width="1.7"/>
<circle cx="329.75" cy="356.50" r="2.9" fill="#000"/>
<text x="346.10" y="359.80" text-anchor="start" font-size="9.3">Vehicle</text>
<path d="M322.00,372.00H337.50" stroke="#0808bb" stroke-width="1.7"/>
<rect x="326.75" y="369.00" width="6.0" height="6.0" fill="#0808bb"/>
<text x="346.10" y="375.30" text-anchor="start" font-size="9.3">Enzalutamide, 1,000 nmol/L</text>
<path d="M322.00,387.85H337.50" stroke="#64ba28" stroke-width="1.7"/>
<path d="M329.75,384.77 L332.80,390.37 L326.70,390.37Z" fill="#64ba28"/>
<text x="346.10" y="390.80" text-anchor="start" font-size="9.3">Bavdegalutamide, 300 nmol/L</text>
<path d="M57.20,509.90V630.90M56.70,630.40H237.30" stroke="#262626" stroke-width="1.15" fill="none"/>
<path d="M53.10,630.40H57.20" stroke="#262626" stroke-width="1.15"/>
<text x="50.80" y="633.70" text-anchor="end" font-size="9.2">0</text>
<path d="M53.10,606.40H57.20" stroke="#262626" stroke-width="1.15"/>
<text x="50.80" y="609.70" text-anchor="end" font-size="9.2">500</text>
<path d="M53.10,582.40H57.20" stroke="#262626" stroke-width="1.15"/>
<text x="50.80" y="585.70" text-anchor="end" font-size="9.2">1,000</text>
<path d="M53.10,558.40H57.20" stroke="#262626" stroke-width="1.15"/>
<text x="50.80" y="561.70" text-anchor="end" font-size="9.2">1,500</text>
<path d="M53.10,534.40H57.20" stroke="#262626" stroke-width="1.15"/>
<text x="50.80" y="537.70" text-anchor="end" font-size="9.2">2,000</text>
<path d="M53.10,510.40H57.20" stroke="#262626" stroke-width="1.15"/>
<text x="50.80" y="513.70" text-anchor="end" font-size="9.2">2,500</text>
<path d="M57.40,630.40V634.50" stroke="#262626" stroke-width="1.15"/>
<text x="57.40" y="644.90" text-anchor="middle" font-size="9.2">0.0001</text>
<path d="M102.20,630.40V634.50" stroke="#262626" stroke-width="1.15"/>
<text x="102.20" y="644.90" text-anchor="middle" font-size="9.2">0.01</text>
<path d="M147.00,630.40V634.50" stroke="#262626" stroke-width="1.15"/>
<text x="147.00" y="644.90" text-anchor="middle" font-size="9.2">1</text>
<path d="M191.80,630.40V634.50" stroke="#262626" stroke-width="1.15"/>
<text x="191.80" y="644.90" text-anchor="middle" font-size="9.2">100</text>
<path d="M236.60,630.40V634.50" stroke="#262626" stroke-width="1.15"/>
<text x="236.60" y="644.90" text-anchor="middle" font-size="9.2">10,000</text>
<text x="0.30" y="509.80" text-anchor="start" font-size="12.5" font-weight="700">D</text>
<text x="21.60" y="571.90" text-anchor="middle" font-size="9.3" font-weight="700" transform="rotate(-90 21.60 571.90)">Caspase-Glo (RLU)</text>
<text x="146.95" y="657.70" text-anchor="middle" font-size="9.35" font-weight="700">Compound (nmol/L)</text>
<path d="M102.00,608.77 L103.03,608.77 L104.06,608.77 L105.09,608.77 L106.12,608.77 L107.15,608.77 L108.18,608.77 L109.21,608.77 L110.24,608.77 L111.26,608.77 L112.29,608.77 L113.32,608.77 L114.35,608.77 L115.38,608.77 L116.41,608.77 L117.44,608.77 L118.47,608.77 L119.50,608.77 L120.53,608.77 L121.56,608.77 L122.59,608.77 L123.62,608.77 L124.65,608.77 L125.68,608.76 L126.71,608.76 L127.74,608.76 L128.76,608.75 L129.79,608.75 L130.82,608.74 L131.85,608.73 L132.88,608.72 L133.91,608.71 L134.94,608.69 L135.97,608.67 L137.00,608.65 L138.03,608.62 L139.06,608.58 L140.09,608.53 L141.12,608.47 L142.15,608.39 L143.18,608.30 L144.21,608.19 L145.24,608.04 L146.26,607.86 L147.29,607.64 L148.32,607.36 L149.35,607.02 L150.38,606.60 L151.41,606.09 L152.44,605.46 L153.47,604.69 L154.50,603.75 L155.53,602.62 L156.56,601.26 L157.59,599.66 L158.62,597.77 L159.65,595.58 L160.68,593.08 L161.71,590.27 L162.74,587.17 L163.76,583.81 L164.79,580.26 L165.82,576.60 L166.85,572.90 L167.88,569.27 L168.91,565.77 L169.94,562.49 L170.97,559.48 L172.00,556.77 L173.03,554.36 L174.06,552.27 L175.09,550.48 L176.12,548.95 L177.15,547.67 L178.18,546.61 L179.21,545.73 L180.24,545.00 L181.26,544.41 L182.29,543.93 L183.32,543.53 L184.35,543.22 L185.38,542.96 L186.41,542.75 L187.44,542.58 L188.47,542.45 L189.50,542.34 L190.53,542.25 L191.56,542.18 L192.59,542.13 L193.62,542.08 L194.65,542.05 L195.68,542.02 L196.71,541.99 L197.74,541.98 L198.76,541.96 L199.79,541.95 L200.82,541.94 L201.85,541.93 L202.88,541.92 L203.91,541.92 L204.94,541.92 L205.97,541.91 L207.00,541.91 L208.03,541.91 L209.06,541.91 L210.09,541.91 L211.12,541.90 L212.15,541.90 L213.18,541.90 L214.21,541.90 L215.24,541.90 L216.26,541.90 L217.29,541.90 L218.32,541.90 L219.35,541.90 L220.38,541.90 L221.41,541.90 L222.44,541.90 L223.47,541.90 L224.50,541.90" fill="none" stroke="#64ba28" stroke-width="1.45" stroke-linejoin="round" stroke-linecap="butt"/>
<path d="M170.00,561.90V571.40M166.80,561.90h6.4M166.80,571.40h6.4" stroke="#64ba28" stroke-width="1.45" fill="none"/>
<path d="M180.25,531.60V545.50M177.05,531.60h6.4M177.05,545.50h6.4" stroke="#64ba28" stroke-width="1.45" fill="none"/>
<path d="M192.25,520.00V541.10M189.05,520.00h6.4M189.05,541.10h6.4" stroke="#64ba28" stroke-width="1.45" fill="none"/>
<path d="M203.00,541.10V550.70M199.80,541.10h6.4M199.80,550.70h6.4" stroke="#64ba28" stroke-width="1.45" fill="none"/>
<path d="M102.00,606.22 L105.05,611.82 L98.95,611.82Z" fill="#64ba28"/>
<path d="M135.50,605.92 L138.55,611.52 L132.45,611.52Z" fill="#64ba28"/>
<path d="M147.00,605.22 L150.05,610.82 L143.95,610.82Z" fill="#64ba28"/>
<path d="M158.00,593.17 L161.05,598.77 L154.95,598.77Z" fill="#64ba28"/>
<path d="M170.00,564.52 L173.05,570.12 L166.95,570.12Z" fill="#64ba28"/>
<path d="M180.25,536.12 L183.30,541.72 L177.20,541.72Z" fill="#64ba28"/>
<path d="M192.25,528.42 L195.30,534.02 L189.20,534.02Z" fill="#64ba28"/>
<path d="M203.00,543.22 L206.05,548.82 L199.95,548.82Z" fill="#64ba28"/>
<path d="M214.25,543.52 L217.30,549.12 L211.20,549.12Z" fill="#64ba28"/>
<path d="M225.50,546.92 L228.55,552.52 L222.45,552.52Z" fill="#64ba28"/>
<path d="M102.00,608.84 L102.41,608.84 L102.83,608.84 L103.24,608.84 L103.65,608.84 L104.07,608.84 L104.48,608.84 L104.89,608.84 L105.30,608.84 L105.72,608.84 L106.13,608.84 L106.54,608.84 L106.96,608.84 L107.37,608.84 L107.78,608.84 L108.20,608.84 L108.61,608.84 L109.02,608.84 L109.43,608.84 L109.85,608.84 L110.26,608.84 L110.67,608.84 L111.09,608.84 L111.50,608.84 L111.91,608.84 L112.33,608.84 L112.74,608.84 L113.15,608.84 L113.57,608.84 L113.98,608.84 L114.39,608.84 L114.80,608.84 L115.22,608.84 L115.63,608.84 L116.04,608.84 L116.46,608.84 L116.87,608.84 L117.28,608.84 L117.70,608.84 L118.11,608.84 L118.52,608.84 L118.93,608.84 L119.35,608.84 L119.76,608.84 L120.17,608.84 L120.59,608.84 L121.00,608.84 L121.41,608.84 L121.83,608.84 L122.24,608.84 L122.65,608.84 L123.07,608.84 L123.48,608.84 L123.89,608.84 L124.30,608.84 L124.72,608.84 L125.13,608.84 L125.54,608.84 L125.96,608.84 L126.37,608.84 L126.78,608.84 L127.20,608.84 L127.61,608.84 L128.02,608.84 L128.43,608.84 L128.85,608.84 L129.26,608.84 L129.67,608.84 L130.09,608.84 L130.50,608.84 L130.91,608.84 L131.33,608.84 L131.74,608.84 L132.15,608.84 L132.57,608.84 L132.98,608.84 L133.39,608.84 L133.80,608.84 L134.22,608.84 L134.63,608.84 L135.04,608.84 L135.46,608.84 L135.87,608.84 L136.28,608.84 L136.70,608.84 L137.11,608.84 L137.52,608.84 L137.93,608.84 L138.35,608.84 L138.76,608.84 L139.17,608.84 L139.59,608.84 L140.00,608.84 L140.41,608.84 L140.83,608.84 L141.24,608.84 L141.65,608.84 L142.07,608.84 L142.48,608.84 L142.89,608.84 L143.30,608.84 L143.72,608.84 L144.13,608.84 L144.54,608.84 L144.96,608.84 L145.37,608.84 L145.78,608.84 L146.20,608.84 L146.61,608.84 L147.02,608.84 L147.43,608.84 L147.85,608.84 L148.26,608.84 L148.67,608.84 L149.09,608.84 L149.50,608.84 L149.91,608.84 L150.33,608.84 L150.74,608.84 L151.15,608.84 L151.57,608.84 L151.98,608.84 L152.39,608.84 L152.80,608.84 L153.22,608.84 L153.63,608.84 L154.04,608.84 L154.46,608.84 L154.87,608.84 L155.28,608.84 L155.70,608.84 L156.11,608.84 L156.52,608.84 L156.93,608.84 L157.35,608.84 L157.76,608.84 L158.17,608.84 L158.59,608.84 L159.00,608.84 L159.41,608.84 L159.83,608.84 L160.24,608.84 L160.65,608.84 L161.07,608.84 L161.48,608.84 L161.89,608.84 L162.30,608.84 L162.72,608.84 L163.13,608.84 L163.54,608.84 L163.96,608.84 L164.37,608.84 L164.78,608.84 L165.20,608.84 L165.61,608.84 L166.02,608.84 L166.43,608.84 L166.85,608.84 L167.26,608.84 L167.67,608.84 L168.09,608.84 L168.50,608.84 L168.91,608.84 L169.33,608.84 L169.74,608.84 L170.15,608.84 L170.57,608.84 L170.98,608.84 L171.39,608.84 L171.80,608.84 L172.22,608.84 L172.63,608.84 L173.04,608.84 L173.46,608.84 L173.87,608.84 L174.28,608.84 L174.70,608.84 L175.11,608.84 L175.52,608.84 L175.93,608.84 L176.35,608.84 L176.76,608.84 L177.17,608.84 L177.59,608.84 L178.00,608.84 L178.41,608.84 L178.83,608.84 L179.24,608.84 L179.65,608.84 L180.07,608.84 L180.48,608.84 L180.89,608.84 L181.30,608.84 L181.72,608.84 L182.13,608.84 L182.54,608.84 L182.96,608.84 L183.37,608.84 L183.78,608.84 L184.20,608.84 L184.61,608.84 L185.02,608.84 L185.43,608.84 L185.85,608.84 L186.26,608.84 L186.67,608.84 L187.09,608.84 L187.50,608.84 L187.91,608.84 L188.33,608.84 L188.74,608.84 L189.15,608.84 L189.57,608.84 L189.98,608.84 L190.39,608.84 L190.80,608.84 L191.22,608.83 L191.63,608.83 L192.04,608.83 L192.46,608.83 L192.87,608.83 L193.28,608.82 L193.70,608.82 L194.11,608.81 L194.52,608.80 L194.93,608.78 L195.35,608.76 L195.76,608.73 L196.17,608.68 L196.59,608.62 L197.00,608.54 L197.41,608.41 L197.83,608.25 L198.24,608.01 L198.65,607.69 L199.07,607.24 L199.48,606.63 L199.89,605.80 L200.30,604.69 L200.72,603.24 L201.13,601.39 L201.54,599.09 L201.96,596.34 L202.37,593.20 L202.78,589.79 L203.20,586.29 L203.61,582.91 L204.02,579.80 L204.43,577.09 L204.85,574.84 L205.26,573.03 L205.67,571.61 L206.09,570.54 L206.50,569.74 L206.91,569.14 L207.33,568.71 L207.74,568.40 L208.15,568.17 L208.57,568.01 L208.98,567.89 L209.39,567.81 L209.80,567.75 L210.22,567.71 L210.63,567.68 L211.04,567.65 L211.46,567.64 L211.87,567.63 L212.28,567.62 L212.70,567.61 L213.11,567.61 L213.52,567.61 L213.93,567.60 L214.35,567.60 L214.76,567.60 L215.17,567.60 L215.59,567.60 L216.00,567.60 L216.41,567.60 L216.83,567.60 L217.24,567.60 L217.65,567.60 L218.07,567.60 L218.48,567.60 L218.89,567.60 L219.30,567.60 L219.72,567.60 L220.13,567.60 L220.54,567.60 L220.96,567.60 L221.37,567.60 L221.78,567.60 L222.20,567.60 L222.61,567.60 L223.02,567.60 L223.43,567.60 L223.85,567.60 L224.26,567.60 L224.67,567.60 L225.09,567.60 L225.50,567.60" fill="none" stroke="#0808bb" stroke-width="1.45" stroke-linejoin="round" stroke-linecap="butt"/>
<path d="M214.25,561.00V570.60M211.05,561.00h6.4M211.05,570.60h6.4" stroke="#0808bb" stroke-width="1.5" fill="none"/>
<rect x="99.00" y="604.70" width="6.0" height="6.0" fill="#0808bb"/>
<rect x="132.20" y="606.80" width="6.0" height="6.0" fill="#0808bb"/>
<rect x="144.00" y="605.75" width="6.0" height="6.0" fill="#0808bb"/>
<rect x="155.00" y="605.50" width="6.0" height="6.0" fill="#0808bb"/>
<rect x="166.50" y="607.00" width="6.0" height="6.0" fill="#0808bb"/>
<rect x="177.25" y="606.50" width="6.0" height="6.0" fill="#0808bb"/>
<rect x="189.25" y="603.50" width="6.0" height="6.0" fill="#0808bb"/>
<rect x="200.00" y="591.25" width="6.0" height="6.0" fill="#0808bb"/>
<rect x="211.25" y="562.75" width="6.0" height="6.0" fill="#0808bb"/>
<rect x="222.50" y="567.25" width="6.0" height="6.0" fill="#0808bb"/>
<path d="M62.50,518.00H78.00" stroke="#0808bb" stroke-width="1.35"/>
<rect x="67.25" y="515.00" width="6.0" height="6.0" fill="#0808bb"/>
<text x="87.50" y="520.80" text-anchor="start" font-size="9.3">Enzalutamide</text>
<path d="M62.50,533.75H78.00" stroke="#64ba28" stroke-width="1.35"/>
<path d="M70.25,530.67 L73.30,536.27 L67.20,536.27Z" fill="#64ba28"/>
<text x="87.50" y="535.85" text-anchor="start" font-size="9.3">Bavdegalutamide</text>
<rect x="376" y="589" width="142" height="47" fill="#fcfcfc" filter="url(#b2)"/>
<rect x="380.0" y="599.50" width="15.0" height="7" rx="3.50" fill="#000" opacity="1" filter="url(#b1)"/>
<rect x="399.0" y="597.40" width="14.3" height="7" rx="3.50" fill="#000" opacity="1" filter="url(#b1)" transform="rotate(-4 406.1 600.9)"/>
<rect x="432.3" y="596.75" width="13.7" height="7.1" rx="3.55" fill="#000" opacity="1" filter="url(#b1)"/>
<rect x="450.0" y="595.35" width="13.5" height="7.9" rx="3.95" fill="#000" opacity="1" filter="url(#b1)"/>
<rect x="483.0" y="596.55" width="13.8" height="7.1" rx="3.55" fill="#000" opacity="1" filter="url(#b1)"/>
<rect x="501.5" y="595.95" width="10.8" height="5.5" rx="2.75" fill="#888" opacity="0.9" filter="url(#b2)"/>
<rect x="400.8" y="616.55" width="12.0" height="1.5" rx="0.75" fill="#aaa" opacity="0.6" filter="url(#b0)"/>
<rect x="433.8" y="615.65" width="10.0" height="1.3" rx="0.65" fill="#ddd" opacity="0.8" filter="url(#b0)"/>
<rect x="450.0" y="615.20" width="11.5" height="2.2" rx="1.10" fill="#333" opacity="1" filter="url(#b0)"/>
<rect x="498.5" y="614.50" width="13.0" height="3.8" rx="1.90" fill="#000" opacity="1" filter="url(#b0)"/>
<rect x="381.5" y="627.30" width="13.1" height="1.2" rx="0.60" fill="#aaa" opacity="1" filter="url(#b0)"/>
<rect x="381.5" y="629.50" width="13.1" height="1.8" rx="0.90" fill="#666" opacity="1" filter="url(#b0)"/>
<rect x="399.7" y="628.10" width="13.8" height="2.0" rx="1.00" fill="#666" opacity="1" filter="url(#b0)" transform="rotate(-3 406.6 629.1)"/>
<rect x="433.8" y="627.50" width="12.1" height="2.0" rx="1.00" fill="#666" opacity="1" filter="url(#b0)"/>
<rect x="450.5" y="627.80" width="12.9" height="2.0" rx="1.00" fill="#777" opacity="1" filter="url(#b0)"/>
<rect x="484.0" y="628.20" width="12.0" height="1.8" rx="0.90" fill="#888" opacity="1" filter="url(#b0)"/>
<rect x="501.5" y="628.30" width="13.1" height="2.4" rx="1.20" fill="#666" opacity="1" filter="url(#b0)"/>
<text x="369.30" y="604.00" text-anchor="end" font-size="9.45">PARP (116 kD)</text>
<text x="369.30" y="618.80" text-anchor="end" font-size="9.4">Cleaved PARP (89 kD)</text>
<text x="369.30" y="633.70" text-anchor="end" font-size="9.4">hMito</text>
<text x="390.80" y="587.40" text-anchor="start" font-size="9.22" transform="rotate(-90 390.80 587.40)">DMSO</text>
<text x="409.20" y="587.40" text-anchor="start" font-size="9.22" transform="rotate(-90 409.20 587.40)">Bavdegalutamide, 100 nmol/L</text>
<text x="441.20" y="587.40" text-anchor="start" font-size="9.22" transform="rotate(-90 441.20 587.40)">DMSO</text>
<text x="460.30" y="587.40" text-anchor="start" font-size="9.22" transform="rotate(-90 460.30 587.40)">Bavdegalutamide, 10 nmol/L</text>
<text x="493.20" y="587.40" text-anchor="start" font-size="9.22" transform="rotate(-90 493.20 587.40)">DMSO</text>
<text x="511.30" y="587.40" text-anchor="start" font-size="9.22" transform="rotate(-90 511.30 587.40)">A825, 100 nmol/L</text>
</svg>
</body></html>
